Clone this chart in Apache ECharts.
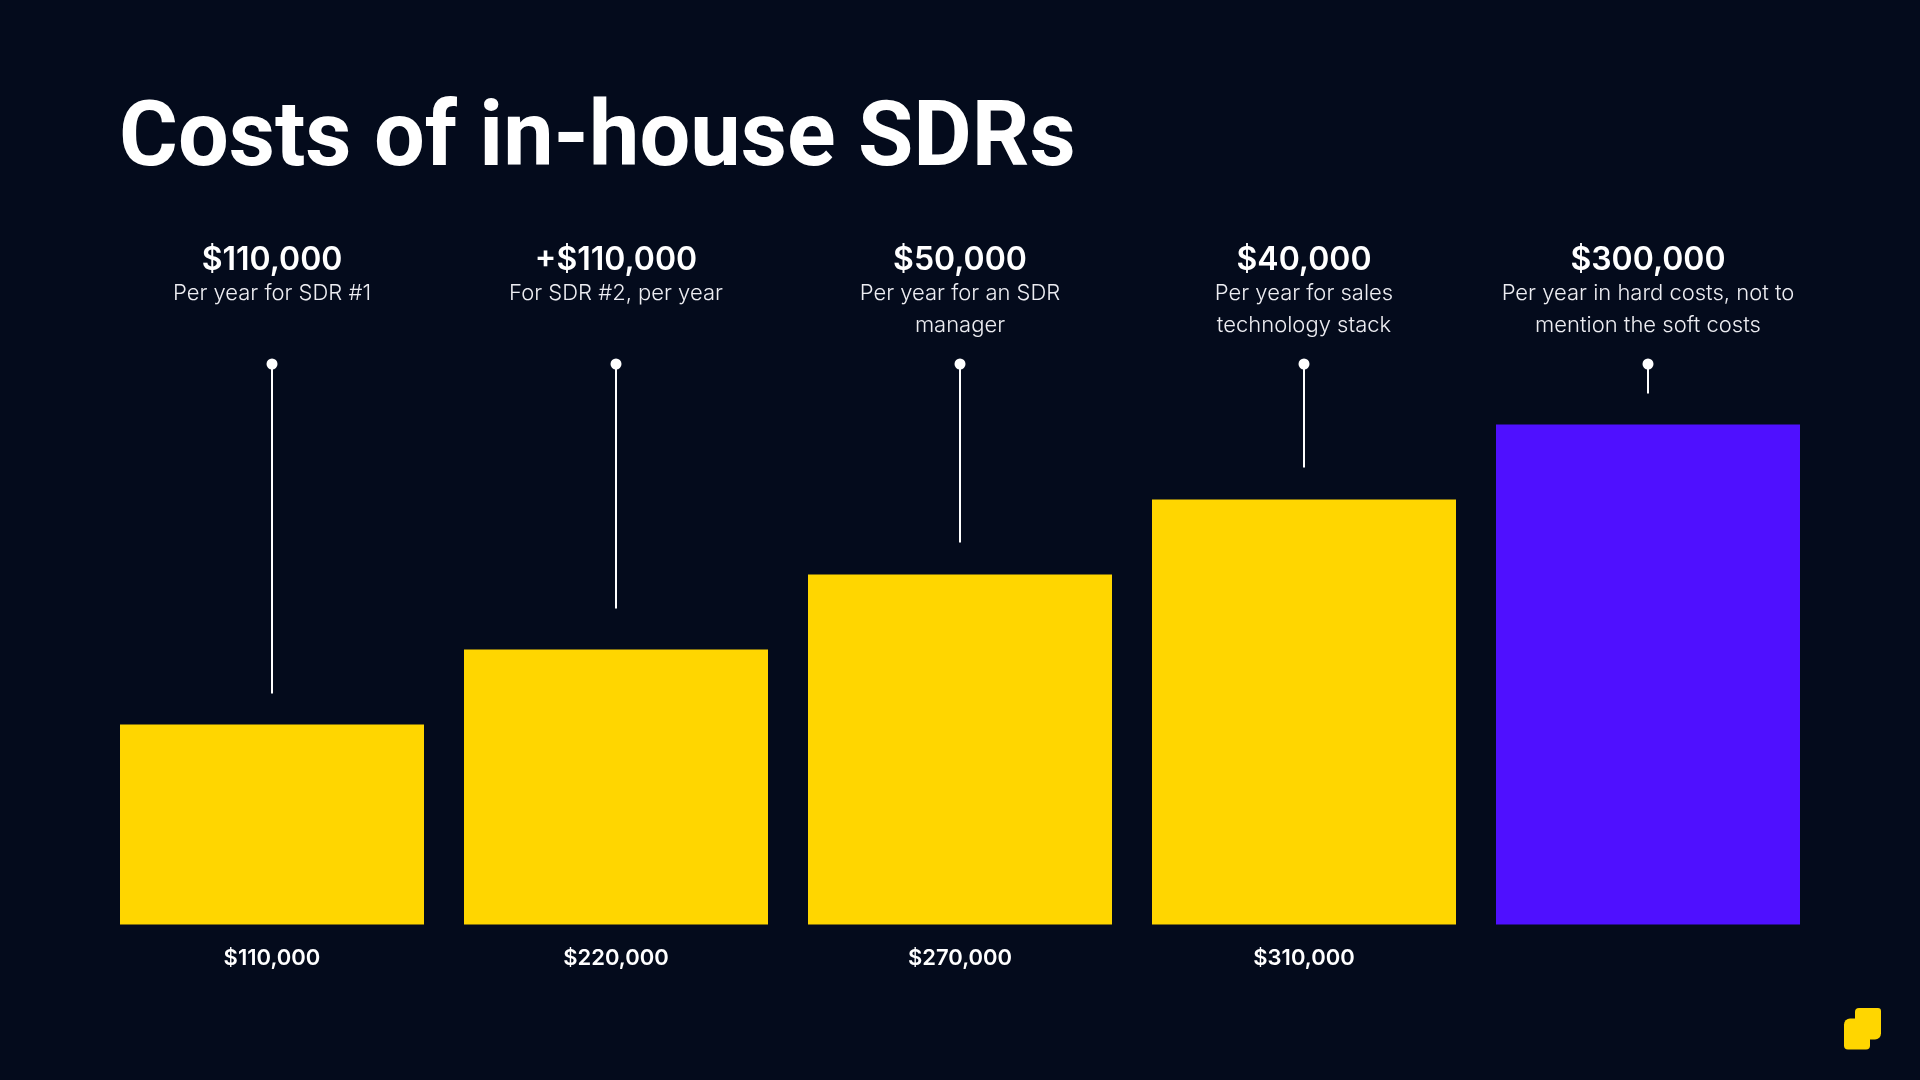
<!DOCTYPE html>
<html>
<head>
<meta charset="utf-8">
<title>Costs of in-house SDRs</title>
<script src="https://cdn.jsdelivr.net/npm/echarts@6/dist/echarts.min.js"></script>
<style>
	html, body { margin: 0; padding: 0; background: #040B1C; }
	#chartDom { width: 1920px; height: 1080px; }
</style>
</head>
<body>
<div id="chartDom"></div>
<script>
// values (bar heights are drawn as relative levels, not to dollar scale)
var categories = ['SDR #1', 'SDR #2', 'SDR manager', 'Tech stack', 'Total'];
var barLevels = [4, 5.5, 7, 8.5, 10];
var costLabels = ['$110,000', '+$110,000', '$50,000', '$40,000', '$300,000'];
var costNotes = [
	'Per year for SDR #1',
	'For SDR #2, per year',
	'Per year for an SDR\nmanager',
	'Per year for sales\ntechnology stack',
	'Per year in hard costs, not to\nmention the soft costs'
];
var runningTotals = ['$110,000', '$220,000', '$270,000', '$310,000', ''];

costChart();

function costChart() {
	var myChart = echarts.init(document.getElementById('chartDom'));
	var pinGap = [31, 41, 32, 32, 31];

	var option = {
		backgroundColor: '#040B1C',
		animation: false,
		grid: {
			left: 100,
			right: 100,
			top: 324.5,
			bottom: 155.5
		},
		xAxis: {
			type: 'category',
			data: categories,
			axisLine: { show: false },
			axisTick: { show: false },
			axisLabel: {
				margin: 23,
				color: '#FFFFFF',
				fontSize: 22,
				fontWeight: 600,
				fontFamily: 'Inter',
				formatter: function(val, idx) {
					return runningTotals[idx];
				}
			}
		},
		yAxis: {
			type: 'value',
			min: 0,
			max: 12,
			show: false,
			splitLine: { show: false }
		},
		graphic: [{
				type: 'text',
				left: 119,
				top: 97,
				style: {
					text: 'Costs of in-house SDRs',
					fill: '#FFFFFF',
					font: 'bold 90px Roboto'
				}
			},
			{
				// logo
				type: 'group',
				left: 1844,
				top: 1008,
				children: [{
						type: 'rect',
						shape: { x: 11, y: 0, width: 26, height: 11, r: [4, 3, 0, 0] },
						style: { fill: '#FFD600' }
					},
					{
						type: 'rect',
						shape: { x: 0, y: 10.5, width: 37, height: 21, r: [6, 0, 6, 0] },
						style: { fill: '#FFD600' }
					},
					{
						type: 'rect',
						shape: { x: 0, y: 31, width: 26, height: 10.6, r: [0, 0, 4, 4] },
						style: { fill: '#FFD600' }
					}
				]
			}
		],
		series: [{
				type: 'bar',
				data: barLevels,
				barWidth: 304,
				itemStyle: {
					color: function(p) {
						return p.dataIndex === barLevels.length - 1 ? '#4F10FF' : '#FFD600';
					}
				}
			},
			{
				type: 'custom',
				coordinateSystem: 'cartesian2d',
				clip: false,
				z: 5,
				data: barLevels.map(function(v, i) { return [i, v]; }),
				encode: { x: 0, y: 1 },
				renderItem: function(params, api) {
					var i = params.dataIndex;
					var p = api.coord([api.value(0), api.value(1)]);
					var pinTop = 364;
					return {
						type: 'group',
						children: [{
								type: 'line',
								shape: { x1: p[0], y1: pinTop, x2: p[0], y2: p[1] - pinGap[i] },
								style: { stroke: '#FFFFFF', lineWidth: 2 }
							},
							{
								type: 'circle',
								shape: { cx: p[0], cy: pinTop, r: 5.5 },
								style: { fill: '#FFFFFF' }
							},
							{
								type: 'text',
								x: p[0],
								y: 260,
								style: {
									text: costLabels[i],
									fill: '#FFFFFF',
									font: '600 32px Inter',
									align: 'center',
									verticalAlign: 'middle'
								}
							},
							{
								type: 'text',
								x: p[0],
								y: 277,
								style: {
									text: costNotes[i],
									fill: '#EDEDF2',
									font: '300 22px Inter',
									lineHeight: 32,
									align: 'center',
									verticalAlign: 'top'
								}
							}
						]
					};
				}
			}
		]
	};
	myChart.setOption(option, true);
}
</script>
</body>
</html>
